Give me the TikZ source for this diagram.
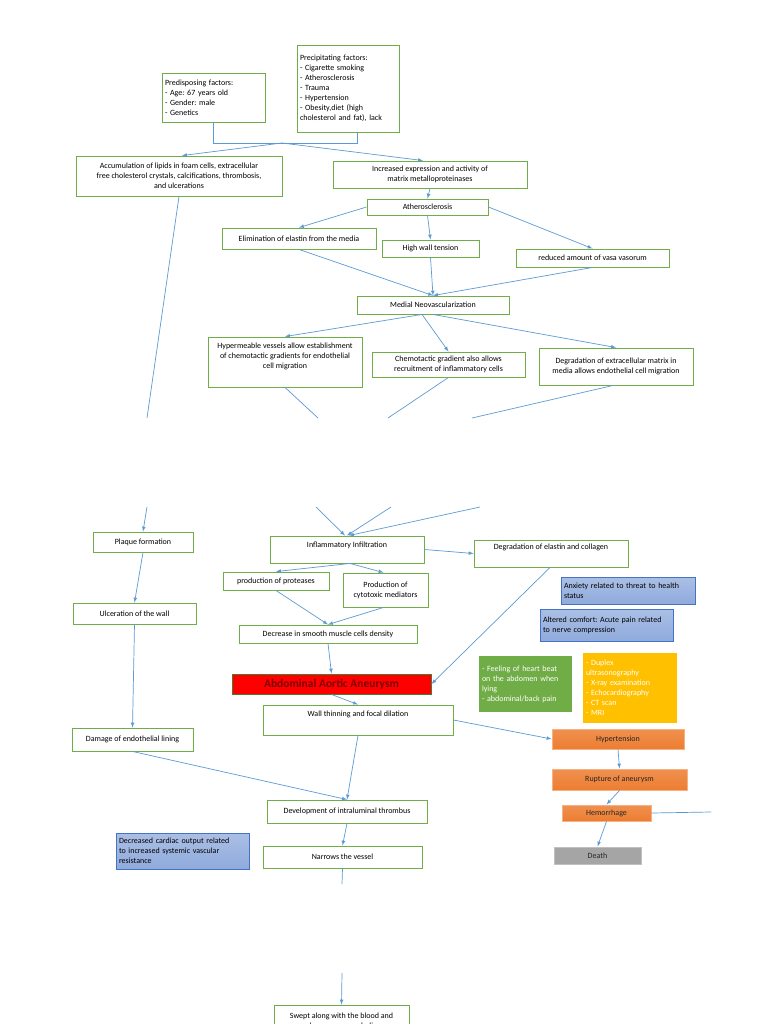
\documentclass[tikz,border=0pt]{standalone}
\usepackage{fontspec}
\setmainfont{Carlito}
\usetikzlibrary{calc}
\definecolor{boxgreen}{HTML}{70AD47}
\definecolor{arrowblue}{HTML}{5B9BD5}
\definecolor{nurseblue}{HTML}{8FAADC}
\definecolor{nurseedge}{HTML}{4472C4}
\definecolor{signgreen}{HTML}{70AD47}
\definecolor{testgold}{HTML}{FFC000}
\definecolor{complorange}{HTML}{ED7D31}
\definecolor{compledge}{HTML}{F4B183}
\definecolor{deathgray}{HTML}{A5A5A5}
\definecolor{aaared}{HTML}{FF0000}
\definecolor{aaatext}{HTML}{7B0000}
\frenchspacing
\begin{document}
\begin{tikzpicture}[x=1pt,y=-1pt,every path/.style={>=latex},
  font=\fontsize{8}{10}\selectfont,
  box/.style={draw=boxgreen,line width=0.9pt,rectangle,inner sep=2pt,align=center},
  leftbox/.style={draw=boxgreen,line width=0.9pt,rectangle,inner sep=3pt,align=left},
  nurse/.style={draw=nurseedge,line width=0.9pt,top color=nurseblue!75,bottom color=nurseblue,inner sep=3pt,align=left},
  sign/.style={fill=signgreen,text=white,inner sep=3pt,align=left},
  test/.style={fill=testgold,text=white,inner sep=3pt,align=left},
  compl/.style={draw=compledge,line width=0.9pt,top color=complorange!85,bottom color=complorange,text=black!85,inner sep=2pt},
  link/.style={draw=arrowblue,line width=0.7pt}]
\useasboundingbox[fill=white] (0,0) rectangle (768,1024);
% factors
\node[leftbox,text width=97pt,minimum height=49pt] (pd) at (213.5,97.5)
  {Predisposing factors:\\- Age: 67 years old\\- Gender: male\\- Genetics};
\node[leftbox,text width=96pt,minimum height=87pt] (pc) at (348,88.5)
  {Precipitating factors:\\- Cigarette smoking\\- Atherosclerosis\\- Trauma\\- Hypertension\\- Obesity,diet (high\\cholesterol and fat), lack};
\coordinate (j) at (213.5,143);
\coordinate (k) at (357,143);
\coordinate (m) at (282,143);
% upper chain
\node[box,minimum width=206pt,minimum height=40pt] (ac) at (179,176)
  {Accumulation of lipids in foam cells, extracellular\\free cholesterol crystals, calcifications, thrombosis,\\and ulcerations};
\node[box,minimum width=194pt,minimum height=27pt] (ie) at (430,174.5)
  {Increased expression and activity of\\matrix metalloproteinases};
\node[box,minimum width=121pt,minimum height=16pt] (at) at (427.5,207) {Atherosclerosis};
\node[box,minimum width=154pt,minimum height=21pt] (el) at (299,238.5) {Elimination of elastin from the media};
\node[box,minimum width=97pt,minimum height=17pt] (hw) at (430.5,248.5) {High wall tension};
\node[box,minimum width=153pt,minimum height=18pt] (rv) at (592.5,258) {reduced amount of vasa vasorum};
\node[box,minimum width=152pt,minimum height=18pt] (mn) at (433,305) {Medial Neovascularization};
\node[box,minimum width=154pt,minimum height=50pt] (hv) at (285,362)
  {Hypermeable vessels allow establishment\\of chemotactic gradients for endothelial\\cell migration\\\strut};
\node[box,minimum width=153pt,minimum height=25pt] (cg) at (448.5,364.5)
  {Chemotactic gradient also allows\\recruitment of inflammatory cells};
\node[box,minimum width=154pt,minimum height=37pt] (de) at (616,366.5)
  {Degradation of extracellular matrix in\\media allows endothelial cell migration};
% page break ends
\coordinate (c1) at (147,418);
\coordinate (c2) at (318,418);
\coordinate (c3) at (388,418);
\coordinate (c4) at (472,418);
\coordinate (c5) at (147,507);
\coordinate (c6) at (316,507);
\coordinate (c7) at (391,507);
\coordinate (c8) at (480,507);
% middle chain
\node[box,minimum width=100pt,minimum height=20pt] (pf) at (143,542) {Plaque formation};
\node[box,minimum width=154pt,minimum height=27pt,text height=6pt,text depth=10pt] (ii) at (347,549.5) {Inflammatory Infiltration};
\node[box,minimum width=154pt,minimum height=27pt,text height=6pt,text depth=14pt] (dc) at (551,553.5) {Degradation of elastin and collagen};
\node[box,minimum width=106pt,minimum height=18pt] (pp) at (276,581) {production of proteases};
\node[box,minimum width=85pt,minimum height=34pt] (pm) at (385.5,590) {Production of\\cytotoxic mediators};
\node[box,minimum width=123pt,minimum height=21pt] (uw) at (134.5,613.5) {Ulceration of the wall};
\node[box,minimum width=178pt,minimum height=18pt] (ds) at (328,634) {Decrease in smooth muscle cells density};
\node[nurse,text width=128pt,minimum height=27pt] (ax) at (628,590.5)
  {Anxiety related to threat to health\\status};
\node[nurse,text width=127pt,minimum height=32pt] (cf) at (606.5,625)
  {Altered comfort: Acute pain related\\to nerve compression};
\node[sign,text width=87pt,minimum height=56pt] (sy) at (525.5,684)
  {- Feeling of heart beat\\on the abdomen when\\lying\\- abdominal/back pain};
\node[test,text width=88pt,minimum height=70pt] (dx) at (630,688)
  {- Duplex\\ultrasonography\\- X-ray examination\\- Echocardiography\\- CT scan\\- MRI};
\node[draw=boxgreen!70!black,line width=0.9pt,fill=aaared,text=aaatext,minimum width=199pt,minimum height=20pt,
  font=\fontsize{11.5}{13}\selectfont\bfseries] (aa) at (331.5,684) {Abdominal Aortic Aneurysm};
\node[box,minimum width=190pt,minimum height=30pt,text height=6pt,text depth=14pt] (wt) at (358,720) {Wall thinning and focal dilation};
\node[box,minimum width=121pt,minimum height=23pt] (dl) at (132.5,739.5) {Damage of endothelial lining};
% complications
\node[compl,minimum width=132pt,minimum height=20pt] (ht) at (618,739) {Hypertension};
\node[compl,minimum width=135pt,minimum height=21pt] (ra) at (619.5,779.5) {Rupture of aneurysm};
\node[compl,minimum width=89pt,minimum height=16pt] (hm) at (606.5,813) {Hemorrhage};
\node[draw=deathgray!70,line width=0.9pt,fill=deathgray,text=black!85,minimum width=87pt,minimum height=17pt] (dt) at (597.5,855.5) {Death};
\coordinate (c11) at (711,812);
% lower chain
\node[box,minimum width=160pt,minimum height=23pt] (it) at (347,811.5) {Development of intraluminal thrombus};
\node[nurse,text width=127pt,minimum height=36pt] (co) at (182.5,851)
  {Decreased cardiac output related\\to increased systemic vascular\\resistance};
\node[box,minimum width=159pt,minimum height=22pt] (nv) at (342.5,857) {Narrows the vessel};
\coordinate (c9) at (342,884);
\coordinate (c10) at (342,973);
\node[box,minimum width=135pt,minimum height=32pt] (sw) at (341.5,1021)
  {Swept along with the blood and\\becomes an emboli};
% connectors
\draw[link] (pd.south) -- (j) -- (k) -- (pc.south -| k);
\draw[link,->] (m) -- ($(ac.north)+(3,0)$);
\draw[link,->] (m) -- ($(ie.north)+(-7,0)$);
\draw[link,->] (ie.south) -- (at.north);
\draw[link,->] (at.west) -- (el.north);
\draw[link,->] (at.south) -- (hw.north);
\draw[link,->] (at.east) -- (rv.north);
\draw[link,->] (el.south) -- (mn.north);
\draw[link,->] (hw.south) -- (mn.north);
\draw[link,->] (rv.south) -- (mn.north);
\draw[link,->] ($(mn.south)+(-11,0)$) -- (hv.north);
\draw[link,->] ($(mn.south)+(-11,0)$) -- (cg.north);
\draw[link,->] (mn.south) -- (de.north);
\draw[link] (ac.south) -- (c1);
\draw[link] (hv.south) -- (c2);
\draw[link] (cg.south) -- (c3);
\draw[link] ($(de.south)+(-3,0)$) -- (c4);
\draw[link,->] (c5) -- (pf.north);
\draw[link,->] (c6) -- ($(ii.north)+(-2,0)$);
\draw[link,->] (c7) -- (ii.north);
\draw[link,->] (c8) -- ($(ii.north)+(2,0)$);
\draw[link,->] (ii.east) -- (dc.west);
\draw[link,->] ($(ii.south)+(3,0)$) -- (pp.north);
\draw[link,->] ($(ii.south)+(3,0)$) -- ($(pm.north)+(-2,0)$);
\draw[link,->] (pp.south) -- (ds.north);
\draw[link,->] ($(pm.south)+(-2,0)$) -- (ds.north);
\draw[link,->] (pf.south) -- (uw.north);
\draw[link,->] (ds.south) -- (aa.north);
\draw[link,->] ($(dc.south)+(-1,0)$) -- (aa.east);
\draw[link,->] (uw.south) -- (dl.north);
\draw[link,->] (aa.south) -- (wt.north);
\draw[link,->] (wt.south) -- (it.north);
\draw[link,->] (dl.south) -- (it.north);
\draw[link,->] (wt.east) -- (ht.west);
\draw[link,->] (it.south) -- (nv.north);
\draw[link] (nv.south) -- (c9);
\draw[link,->] (c10) -- (sw.north);
\draw[link,->] (ht.south) -- (ra.north);
\draw[link,->] (ra.south) -- (hm.north);
\draw[link,->] (hm.south) -- (dt.north);
\draw[link] (hm.east) -- (c11);
\end{tikzpicture}
\end{document}
